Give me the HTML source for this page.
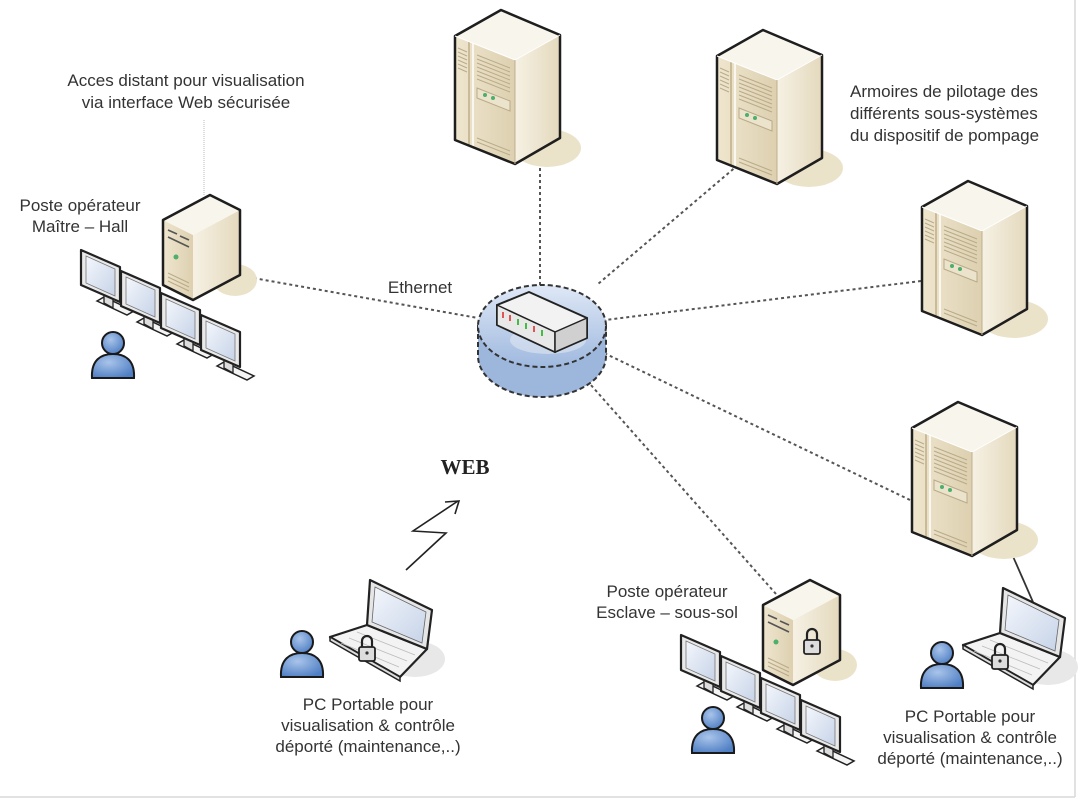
<!DOCTYPE html>
<html><head><meta charset="utf-8"><style>
html,body{margin:0;padding:0;background:#fff;}
svg{display:block;}
text{font-family:"Liberation Sans",sans-serif;font-size:17px;fill:#333;}
</style></head><body>
<svg width="1080" height="803" viewBox="0 0 1080 803" xmlns="http://www.w3.org/2000/svg">
<defs>
<linearGradient id="gFront" x1="0" y1="0" x2="1" y2="0"><stop offset="0" stop-color="#efe6cf"/><stop offset="1" stop-color="#ddd0b0"/></linearGradient>
<linearGradient id="gRight" x1="0" y1="0" x2="1" y2="0"><stop offset="0" stop-color="#f6f1e4"/><stop offset="1" stop-color="#e4d9bd"/></linearGradient>
<linearGradient id="gDisc" x1="0" y1="0" x2="0" y2="1"><stop offset="0" stop-color="#dfe8f6"/><stop offset="1" stop-color="#9fb9df"/></linearGradient>
<radialGradient id="gHead" cx="0.4" cy="0.35" r="0.7"><stop offset="0" stop-color="#a9c4ea"/><stop offset="1" stop-color="#4f7fc4"/></radialGradient>
<linearGradient id="gScreen" x1="0" y1="0" x2="1" y2="1"><stop offset="0" stop-color="#f4f7fc"/><stop offset="1" stop-color="#c6d3e8"/></linearGradient>

<g id="rack">
  <ellipse cx="92" cy="138" rx="34" ry="19" fill="#ebe3c9"/>
  <polygon points="0,26 60,50 60,154 0,130" fill="url(#gFront)"/>
  <polygon points="60,50 105,25 105,128 60,154" fill="url(#gRight)"/>
  <polygon points="0,26 46,0 105,25 60,50" fill="#f8f5ec"/>
  <line x1="14" y1="32" x2="14" y2="136" stroke="#c9bb98" stroke-width="2"/>
  <line x1="18" y1="33" x2="18" y2="138" stroke="#fff" stroke-width="1.5"/>
  <g stroke="#b9ab88" stroke-width="1">
    <line x1="3" y1="38" x2="12" y2="42"/><line x1="3" y1="42" x2="12" y2="46"/><line x1="3" y1="46" x2="12" y2="50"/><line x1="3" y1="50" x2="12" y2="54"/><line x1="3" y1="54" x2="12" y2="58"/><line x1="3" y1="58" x2="12" y2="62"/>
    <line x1="22" y1="45" x2="55" y2="58"/><line x1="22" y1="49" x2="55" y2="62"/><line x1="22" y1="53" x2="55" y2="66"/><line x1="22" y1="57" x2="55" y2="70"/><line x1="22" y1="61" x2="55" y2="74"/><line x1="22" y1="65" x2="55" y2="78"/><line x1="22" y1="69" x2="55" y2="82"/>
    <line x1="22" y1="128" x2="55" y2="141"/><line x1="22" y1="132" x2="55" y2="145"/>
  </g>
  <polygon points="22,78 55,91 55,101 22,88" fill="#ece3cc" stroke="#b9ab88"/>
  <circle cx="30" cy="85" r="2" fill="#4caf6a"/><circle cx="38" cy="88" r="2" fill="#4caf6a"/>
  <polygon points="0,26 46,0 105,25 105,128 60,154 0,130" fill="none" stroke="#1e1e1e" stroke-width="2.5" stroke-linejoin="round"/>
  <polyline points="0,26 60,50 105,25" fill="none" stroke="#fff" stroke-width="1"/>
  <line x1="60" y1="50" x2="60" y2="154" stroke="#bfb18e" stroke-width="1"/>
</g>

<g id="tower">
  <ellipse cx="72" cy="85" rx="22" ry="16" fill="#ebe3c9"/>
  <polygon points="0,25 30,40 30,105 0,90" fill="url(#gFront)"/>
  <polygon points="30,40 77,15 77,80 30,105" fill="url(#gRight)"/>
  <polygon points="0,25 47,0 77,15 30,40" fill="#f8f5ec"/>
  <g stroke="#555" stroke-width="1.6">
    <line x1="5" y1="35" x2="14" y2="39"/><line x1="17" y1="41" x2="26" y2="45"/>
    <line x1="5" y1="42" x2="26" y2="52"/>
  </g>
  <circle cx="13" cy="62" r="2.5" fill="#4caf6a"/>
  <g stroke="#b9ab88" stroke-width="1"><line x1="5" y1="78" x2="26" y2="88"/><line x1="5" y1="82" x2="26" y2="92"/><line x1="5" y1="86" x2="26" y2="96"/></g>
  <polygon points="0,25 47,0 77,15 77,80 30,105 0,90" fill="none" stroke="#1e1e1e" stroke-width="2.5" stroke-linejoin="round"/>
</g>

<g id="mon">
  <polygon points="16,51 46,65 53,61 23,47" fill="#f4f4f4" stroke="#222" stroke-width="1.5"/>
  <polygon points="23,41 32,46 32,58 23,53" fill="#ddd" stroke="#222" stroke-width="1.3"/>
  <polygon points="0,0 39,17 39,52 0,35" fill="#e9e9e9" stroke="#222" stroke-width="2.2" stroke-linejoin="round"/>
  <polygon points="5,6 34,19 34,46 5,33" fill="url(#gScreen)" stroke="#777" stroke-width="0.8"/>
</g>

<g id="person">
  <path d="M-21,26 C-22,8 -12,2 0,2 C12,2 22,8 21,26 Z" fill="url(#gHead)" stroke="#1a1a1a" stroke-width="2"/>
  <circle cx="0" cy="-9" r="11" fill="url(#gHead)" stroke="#1a1a1a" stroke-width="2"/>
</g>

<g id="lock">
  <path d="M-5,0 V-6 A5,5 0 0 1 5,-6 V0" fill="none" stroke="#222" stroke-width="2.2"/>
  <rect x="-8" y="0" width="16" height="14" rx="2" fill="#ddd" stroke="#222" stroke-width="1.8"/>
  <circle cx="0" cy="6" r="1.6" fill="#333"/>
</g>

<g id="laptop">
  <ellipse cx="88" cy="82" rx="30" ry="18" fill="#e8e8e8"/>
  <polygon points="40,48 100,72 73,100 3,60" fill="#f3f3f3" stroke="#222" stroke-width="2.2" stroke-linejoin="round"/>
  <polygon points="3,60 73,100 73,104 3,64" fill="#ddd" stroke="#222" stroke-width="1.5"/>
  <g stroke="#bbb" stroke-width="0.8">
    <line x1="30" y1="55" x2="88" y2="78"/><line x1="22" y1="61" x2="80" y2="84"/><line x1="14" y1="66" x2="72" y2="90"/>
  </g>
  <polygon points="43,3 105,33 100,72 40,48" fill="#e6e6e6" stroke="#222" stroke-width="2.2" stroke-linejoin="round"/>
  <polygon points="48,10 99,35 95,66 45,45" fill="url(#gScreen)" stroke="#666" stroke-width="0.8"/>
  <use href="#lock" x="40" y="70"/>
</g>
</defs>

<line x1="1075" y1="0" x2="1075" y2="797" stroke="#d8d8d8" stroke-width="1.5"/>
<line x1="0" y1="797" x2="1075" y2="797" stroke="#d8d8d8" stroke-width="1.5"/>

<g stroke="#555" stroke-width="2" stroke-dasharray="3,3" fill="none">
  <line x1="540" y1="168" x2="540" y2="288"/>
  <line x1="738" y1="165" x2="598" y2="284"/>
  <line x1="921" y1="281" x2="605" y2="320"/>
  <line x1="910" y1="500" x2="604" y2="353"/>
  <line x1="242" y1="276" x2="478" y2="318"/>
  <line x1="776" y1="594" x2="590" y2="384"/>
</g>
<line x1="204" y1="120" x2="204" y2="195" stroke="#bbb" stroke-width="1" stroke-dasharray="1,1"/>
<line x1="997" y1="520" x2="1033" y2="602" stroke="#333" stroke-width="1.8"/>

<path d="M478,326 L478,356 A64,41 0 0 0 606,356 L606,326 Z" fill="#9db6dc" stroke="#333" stroke-width="2" stroke-dasharray="5,3"/>
<ellipse cx="542" cy="326" rx="64" ry="41" fill="url(#gDisc)" stroke="#333" stroke-width="2" stroke-dasharray="5,3"/>
<ellipse cx="548" cy="340" rx="38" ry="14" fill="#dfe6f2" opacity="0.6"/>
<polygon points="497,305 529,292 587,318 587,338 555,352 497,325" fill="#f2f2f2" stroke="#222" stroke-width="2" stroke-linejoin="round"/>
<polygon points="497,305 555,332 555,352 497,325" fill="#e8e8e8" stroke="#222" stroke-width="1.5"/>
<polygon points="555,332 587,318 587,338 555,352" fill="#d0d0d0" stroke="#222" stroke-width="1.5"/>
<g stroke-width="2"><line x1="503" y1="312" x2="503" y2="318" stroke="#d55"/><line x1="510" y1="315" x2="510" y2="321" stroke="#d55"/><line x1="518" y1="319" x2="518" y2="325" stroke="#4b4"/><line x1="526" y1="323" x2="526" y2="329" stroke="#4b4"/><line x1="534" y1="326" x2="534" y2="332" stroke="#d55"/><line x1="542" y1="330" x2="542" y2="336" stroke="#4b4"/></g>

<use href="#rack" x="455" y="10"/>
<use href="#rack" x="717" y="30"/>
<use href="#rack" x="922" y="181"/>
<use href="#rack" x="912" y="402"/>

<use href="#mon" x="81" y="250"/>
<use href="#mon" x="121" y="271"/>
<use href="#mon" x="161" y="293"/>
<use href="#mon" x="201" y="315"/>
<use href="#tower" x="163" y="195"/>
<use href="#person" x="113" y="352"/>

<use href="#mon" x="681" y="635"/>
<use href="#mon" x="721" y="656"/>
<use href="#mon" x="761" y="678"/>
<use href="#mon" x="801" y="700"/>
<use href="#tower" x="763" y="580"/>
<use href="#lock" x="812" y="640"/>
<use href="#person" x="713" y="727"/>

<use href="#laptop" x="327" y="577"/>
<use href="#person" x="302" y="651"/>
<use href="#laptop" x="960" y="585"/>
<use href="#person" x="942" y="662"/>

<polyline points="406,570 446,533 413,531 458,501" fill="none" stroke="#222" stroke-width="1.6"/>
<polyline points="445,502 459,501 455,514" fill="none" stroke="#222" stroke-width="1.6"/>

<text x="186" y="86" text-anchor="middle">Acces distant pour visualisation</text>
<text x="186" y="108" text-anchor="middle">via interface Web sécurisée</text>
<text x="80" y="211" text-anchor="middle">Poste opérateur</text>
<text x="80" y="232" text-anchor="middle">Maître – Hall</text>
<text x="420" y="293" text-anchor="middle">Ethernet</text>
<text x="850" y="97">Armoires de pilotage des</text>
<text x="850" y="119">différents sous-systèmes</text>
<text x="850" y="141">du dispositif de pompage</text>
<text x="465" y="474" text-anchor="middle" style="font-family:'Liberation Serif',serif;font-weight:bold;font-size:21px;fill:#222">WEB</text>
<text x="368" y="710" text-anchor="middle">PC Portable pour</text>
<text x="368" y="731" text-anchor="middle">visualisation &amp; contrôle</text>
<text x="368" y="752" text-anchor="middle">déporté (maintenance,..)</text>
<text x="667" y="597" text-anchor="middle">Poste opérateur</text>
<text x="667" y="618" text-anchor="middle">Esclave – sous-sol</text>
<text x="970" y="722" text-anchor="middle">PC Portable pour</text>
<text x="970" y="743" text-anchor="middle">visualisation &amp; contrôle</text>
<text x="970" y="764" text-anchor="middle">déporté (maintenance,..)</text>
</svg>
</body></html>
